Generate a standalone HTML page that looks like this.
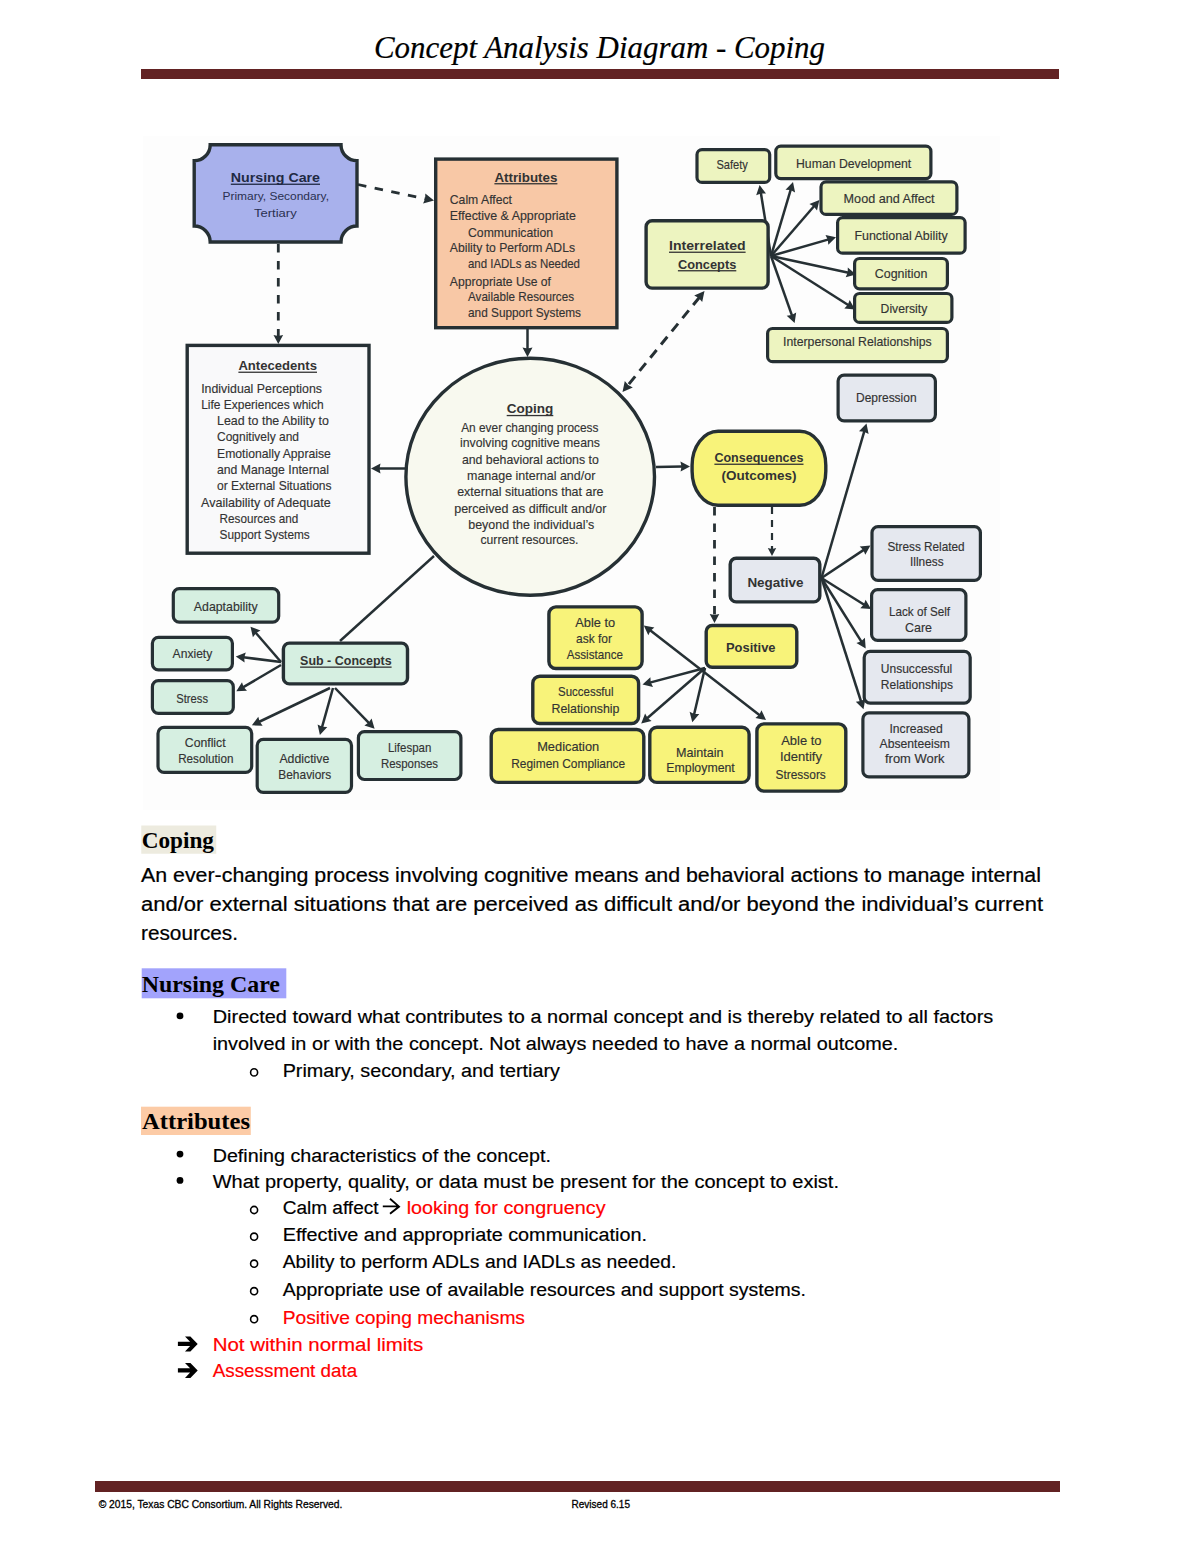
<!DOCTYPE html><html><head><meta charset="utf-8"><title>Concept Analysis Diagram - Coping</title>
<style>html,body{margin:0;padding:0;background:#fff;width:1200px;height:1553px;overflow:hidden}svg{display:block}</style></head><body>
<svg width="1200" height="1553" viewBox="0 0 1200 1553">
<rect x="0" y="0" width="1200" height="1553" fill="#ffffff"/>
<text x="374.0" y="57.6" font-family='"Liberation Serif", serif' font-size="31.5" font-weight="normal" font-style="italic" fill="#000" textLength="451.0" lengthAdjust="spacingAndGlyphs" stroke="#000" stroke-width="0.2">Concept Analysis Diagram - Coping</text>
<rect x="141" y="69" width="918" height="10" fill="#622223"/>
<rect x="143" y="136" width="857" height="674" fill="#fdfdfd"/>
<line x1="358.0" y1="184.5" x2="426.2" y2="198.9" stroke="#263034" stroke-width="2.8" stroke-dasharray="8.5,8.5"/>
<polygon points="434.0,200.5 423.1,203.5 425.2,198.6 425.3,193.4" fill="#263034"/>
<line x1="278.3" y1="244.0" x2="278.3" y2="336.8" stroke="#263034" stroke-width="2.8" stroke-dasharray="8.5,8.5"/>
<polygon points="278.3,344.0 273.5,335.0 278.3,336.0 283.1,335.0" fill="#263034"/>
<line x1="527.5" y1="329.0" x2="527.5" y2="349.4" stroke="#263034" stroke-width="2.5"/>
<polygon points="527.5,357.0 522.5,347.5 527.5,348.5 532.5,347.5" fill="#263034"/>
<line x1="405.0" y1="468.5" x2="378.6" y2="468.5" stroke="#263034" stroke-width="2.5"/>
<polygon points="371.0,468.5 380.5,463.5 379.5,468.5 380.5,473.5" fill="#263034"/>
<line x1="699.5" y1="297.2" x2="627.5" y2="385.8" stroke="#263034" stroke-width="3" stroke-dasharray="10,7"/>
<polygon points="622.5,392.0 624.8,381.0 628.2,385.0 632.8,387.5" fill="#263034"/>
<polygon points="704.5,291.0 702.2,302.0 698.8,298.0 694.2,295.5" fill="#263034"/>
<line x1="656.0" y1="467.0" x2="682.4" y2="466.6" stroke="#263034" stroke-width="2.5"/>
<polygon points="690.0,466.5 680.6,471.6 681.5,466.6 680.4,461.6" fill="#263034"/>
<line x1="434" y1="556" x2="340" y2="641" stroke="#263034" stroke-width="2.4"/>
<line x1="771.0" y1="256.0" x2="760.8" y2="192.5" stroke="#263034" stroke-width="2.5"/>
<polygon points="759.6,185.0 766.0,193.6 760.9,193.4 756.2,195.2" fill="#263034"/>
<line x1="771.0" y1="256.0" x2="790.8" y2="189.3" stroke="#263034" stroke-width="2.5"/>
<polygon points="793.0,182.0 795.1,192.5 790.6,190.1 785.5,189.7" fill="#263034"/>
<line x1="771.0" y1="256.0" x2="814.4" y2="205.8" stroke="#263034" stroke-width="2.5"/>
<polygon points="819.4,200.0 817.0,210.5 813.8,206.4 809.4,203.9" fill="#263034"/>
<line x1="771.0" y1="256.0" x2="828.7" y2="239.4" stroke="#263034" stroke-width="2.5"/>
<polygon points="836.0,237.3 828.3,244.7 827.8,239.7 825.5,235.1" fill="#263034"/>
<line x1="771.0" y1="256.0" x2="848.6" y2="272.8" stroke="#263034" stroke-width="2.5"/>
<polygon points="856.0,274.4 845.7,277.3 847.7,272.6 847.8,267.5" fill="#263034"/>
<line x1="771.0" y1="256.0" x2="848.6" y2="305.3" stroke="#263034" stroke-width="2.5"/>
<polygon points="855.0,309.4 844.3,308.5 847.8,304.8 849.7,300.1" fill="#263034"/>
<line x1="771.0" y1="256.0" x2="792.1" y2="315.8" stroke="#263034" stroke-width="2.5"/>
<polygon points="794.6,323.0 786.7,315.7 791.8,315.0 796.2,312.4" fill="#263034"/>
<line x1="714.5" y1="507.0" x2="714.5" y2="615.8" stroke="#263034" stroke-width="2.8" stroke-dasharray="8.5,8"/>
<polygon points="714.5,623.0 709.7,614.0 714.5,615.0 719.3,614.0" fill="#263034"/>
<line x1="772.0" y1="507.0" x2="772.0" y2="549.6" stroke="#263034" stroke-width="2.2" stroke-dasharray="7,6"/>
<polygon points="772.0,556.0 767.8,548.0 772.0,549.0 776.2,548.0" fill="#263034"/>
<line x1="821.5" y1="578.0" x2="864.4" y2="430.9" stroke="#263034" stroke-width="2.5"/>
<polygon points="866.5,423.6 868.6,434.1 864.1,431.8 859.0,431.3" fill="#263034"/>
<line x1="821.5" y1="578.0" x2="864.1" y2="549.6" stroke="#263034" stroke-width="2.5"/>
<polygon points="870.4,545.4 865.3,554.8 863.3,550.1 859.7,546.5" fill="#263034"/>
<line x1="821.5" y1="578.0" x2="864.6" y2="605.0" stroke="#263034" stroke-width="2.5"/>
<polygon points="871.0,609.0 860.3,608.2 863.8,604.5 865.6,599.7" fill="#263034"/>
<line x1="821.5" y1="578.0" x2="861.7" y2="642.1" stroke="#263034" stroke-width="2.5"/>
<polygon points="865.7,648.5 856.4,643.1 861.2,641.3 864.9,637.8" fill="#263034"/>
<line x1="821.5" y1="578.0" x2="861.2" y2="702.0" stroke="#263034" stroke-width="2.5"/>
<polygon points="863.5,709.2 855.8,701.7 860.9,701.1 865.4,698.6" fill="#263034"/>
<line x1="649.8" y1="630.1" x2="760.0" y2="715.4" stroke="#263034" stroke-width="2.5"/>
<polygon points="766.0,720.0 755.4,718.1 759.3,714.8 761.5,710.2" fill="#263034"/>
<polygon points="643.8,625.5 654.4,627.4 650.5,630.7 648.3,635.3" fill="#263034"/>
<line x1="705.0" y1="668.0" x2="649.8" y2="682.6" stroke="#263034" stroke-width="2.5"/>
<polygon points="642.5,684.5 650.4,677.2 650.7,682.3 653.0,686.9" fill="#263034"/>
<line x1="705.0" y1="668.0" x2="646.9" y2="718.5" stroke="#263034" stroke-width="2.5"/>
<polygon points="641.2,723.5 645.1,713.5 647.6,717.9 651.6,721.0" fill="#263034"/>
<line x1="705.0" y1="668.0" x2="694.0" y2="714.8" stroke="#263034" stroke-width="2.5"/>
<polygon points="692.3,722.2 689.6,711.8 694.2,713.9 699.3,714.1" fill="#263034"/>
<line x1="281.0" y1="662.0" x2="255.5" y2="632.5" stroke="#263034" stroke-width="2.5"/>
<polygon points="250.5,626.7 260.5,630.6 256.1,633.1 252.9,637.2" fill="#263034"/>
<line x1="281.0" y1="662.0" x2="243.3" y2="657.3" stroke="#263034" stroke-width="2.5"/>
<polygon points="235.8,656.4 245.8,652.6 244.2,657.4 244.6,662.5" fill="#263034"/>
<line x1="281.0" y1="665.0" x2="242.9" y2="687.4" stroke="#263034" stroke-width="2.5"/>
<polygon points="236.3,691.3 242.0,682.2 243.6,687.0 247.0,690.8" fill="#263034"/>
<line x1="330.0" y1="688.0" x2="258.8" y2="722.0" stroke="#263034" stroke-width="2.5"/>
<polygon points="251.9,725.3 258.3,716.7 259.6,721.6 262.6,725.7" fill="#263034"/>
<line x1="333.0" y1="688.0" x2="321.9" y2="727.6" stroke="#263034" stroke-width="2.5"/>
<polygon points="319.9,734.9 317.6,724.4 322.2,726.7 327.3,727.1" fill="#263034"/>
<line x1="335.0" y1="688.0" x2="369.3" y2="723.3" stroke="#263034" stroke-width="2.5"/>
<polygon points="374.6,728.7 364.4,725.4 368.7,722.6 371.6,718.4" fill="#263034"/>
<path d="M210.2,144.7 H341 A16,16 0 0 0 357,160.7 V226 A16,16 0 0 0 341,242 H210.2 A16,16 0 0 0 194.2,226 V160.7 A16,16 0 0 0 210.2,144.7 Z" fill="#a8b1ec" stroke="#263034" stroke-width="3.4"/>
<text x="230.8" y="182.0" font-family='"Liberation Sans", sans-serif' font-size="13.2" font-weight="bold" font-style="normal" fill="#1f2a44" textLength="89.2" lengthAdjust="spacingAndGlyphs">Nursing Care</text>
<rect x="230.8" y="183.6" width="89.2" height="1.3" fill="#1f2a44"/>
<text x="222.5" y="200.0" font-family='"Liberation Sans", sans-serif' font-size="11.2" font-weight="normal" font-style="normal" fill="#2a3050" textLength="106.5" lengthAdjust="spacingAndGlyphs">Primary, Secondary,</text>
<text x="254.0" y="216.7" font-family='"Liberation Sans", sans-serif' font-size="11.2" font-weight="normal" font-style="normal" fill="#2a3050" textLength="42.7" lengthAdjust="spacingAndGlyphs">Tertiary</text>
<rect x="435.7" y="159.1" width="181.2" height="168.6" rx="0" fill="#f8c8a6" stroke="#263034" stroke-width="3.4"/>
<text x="494.4" y="181.5" font-family='"Liberation Sans", sans-serif' font-size="13" font-weight="bold" font-style="normal" fill="#333333" textLength="63.0" lengthAdjust="spacingAndGlyphs">Attributes</text>
<rect x="494.4" y="183.1" width="63.0" height="1.3" fill="#333333"/>
<text x="449.8" y="203.9" font-family='"Liberation Sans", sans-serif' font-size="12.6" font-weight="normal" font-style="normal" fill="#333333" textLength="62.2" lengthAdjust="spacingAndGlyphs" stroke="#333333" stroke-width="0.15">Calm Affect</text>
<text x="449.8" y="220.0" font-family='"Liberation Sans", sans-serif' font-size="12.6" font-weight="normal" font-style="normal" fill="#333333" textLength="126.0" lengthAdjust="spacingAndGlyphs" stroke="#333333" stroke-width="0.15">Effective &amp; Appropriate</text>
<text x="468.0" y="236.6" font-family='"Liberation Sans", sans-serif' font-size="12.6" font-weight="normal" font-style="normal" fill="#333333" textLength="85.0" lengthAdjust="spacingAndGlyphs" stroke="#333333" stroke-width="0.15">Communication</text>
<text x="449.8" y="252.4" font-family='"Liberation Sans", sans-serif' font-size="12.6" font-weight="normal" font-style="normal" fill="#333333" textLength="125.2" lengthAdjust="spacingAndGlyphs" stroke="#333333" stroke-width="0.15">Ability to Perform ADLs</text>
<text x="468.0" y="268.0" font-family='"Liberation Sans", sans-serif' font-size="12.6" font-weight="normal" font-style="normal" fill="#333333" textLength="112.0" lengthAdjust="spacingAndGlyphs" stroke="#333333" stroke-width="0.15">and IADLs as Needed</text>
<text x="449.8" y="285.6" font-family='"Liberation Sans", sans-serif' font-size="12.6" font-weight="normal" font-style="normal" fill="#333333" textLength="101.2" lengthAdjust="spacingAndGlyphs" stroke="#333333" stroke-width="0.15">Appropriate Use of</text>
<text x="468.0" y="301.4" font-family='"Liberation Sans", sans-serif' font-size="12.6" font-weight="normal" font-style="normal" fill="#333333" textLength="106.0" lengthAdjust="spacingAndGlyphs" stroke="#333333" stroke-width="0.15">Available Resources</text>
<text x="468.0" y="317.0" font-family='"Liberation Sans", sans-serif' font-size="12.6" font-weight="normal" font-style="normal" fill="#333333" textLength="113.0" lengthAdjust="spacingAndGlyphs" stroke="#333333" stroke-width="0.15">and Support Systems</text>
<rect x="187.2" y="345.4" width="181.8" height="207.8" rx="0" fill="#f9f9fa" stroke="#263034" stroke-width="3.4"/>
<text x="238.4" y="370.0" font-family='"Liberation Sans", sans-serif' font-size="13" font-weight="bold" font-style="normal" fill="#333333" textLength="78.6" lengthAdjust="spacingAndGlyphs">Antecedents</text>
<rect x="238.4" y="371.6" width="78.6" height="1.3" fill="#333333"/>
<text x="201.2" y="392.8" font-family='"Liberation Sans", sans-serif' font-size="12.6" font-weight="normal" font-style="normal" fill="#333333" textLength="120.8" lengthAdjust="spacingAndGlyphs" stroke="#333333" stroke-width="0.15">Individual Perceptions</text>
<text x="201.2" y="409.4" font-family='"Liberation Sans", sans-serif' font-size="12.6" font-weight="normal" font-style="normal" fill="#333333" textLength="122.5" lengthAdjust="spacingAndGlyphs" stroke="#333333" stroke-width="0.15">Life Experiences which</text>
<text x="217.0" y="425.1" font-family='"Liberation Sans", sans-serif' font-size="12.6" font-weight="normal" font-style="normal" fill="#333333" textLength="112.0" lengthAdjust="spacingAndGlyphs" stroke="#333333" stroke-width="0.15">Lead to the Ability to</text>
<text x="217.0" y="440.9" font-family='"Liberation Sans", sans-serif' font-size="12.6" font-weight="normal" font-style="normal" fill="#333333" textLength="82.0" lengthAdjust="spacingAndGlyphs" stroke="#333333" stroke-width="0.15">Cognitively and</text>
<text x="217.0" y="458.4" font-family='"Liberation Sans", sans-serif' font-size="12.6" font-weight="normal" font-style="normal" fill="#333333" textLength="113.8" lengthAdjust="spacingAndGlyphs" stroke="#333333" stroke-width="0.15">Emotionally Appraise</text>
<text x="217.0" y="474.0" font-family='"Liberation Sans", sans-serif' font-size="12.6" font-weight="normal" font-style="normal" fill="#333333" textLength="112.0" lengthAdjust="spacingAndGlyphs" stroke="#333333" stroke-width="0.15">and Manage Internal</text>
<text x="217.0" y="489.9" font-family='"Liberation Sans", sans-serif' font-size="12.6" font-weight="normal" font-style="normal" fill="#333333" textLength="114.6" lengthAdjust="spacingAndGlyphs" stroke="#333333" stroke-width="0.15">or External Situations</text>
<text x="201.0" y="507.4" font-family='"Liberation Sans", sans-serif' font-size="12.6" font-weight="normal" font-style="normal" fill="#333333" textLength="129.8" lengthAdjust="spacingAndGlyphs" stroke="#333333" stroke-width="0.15">Availability of Adequate</text>
<text x="219.6" y="523.0" font-family='"Liberation Sans", sans-serif' font-size="12.6" font-weight="normal" font-style="normal" fill="#333333" textLength="78.8" lengthAdjust="spacingAndGlyphs" stroke="#333333" stroke-width="0.15">Resources and</text>
<text x="219.6" y="538.9" font-family='"Liberation Sans", sans-serif' font-size="12.6" font-weight="normal" font-style="normal" fill="#333333" textLength="90.2" lengthAdjust="spacingAndGlyphs" stroke="#333333" stroke-width="0.15">Support Systems</text>
<ellipse cx="530.2" cy="476.7" rx="124.3" ry="118.5" fill="#f8f9ef" stroke="#263034" stroke-width="3.4"/>
<text x="506.7" y="413.3" font-family='"Liberation Sans", sans-serif' font-size="13.2" font-weight="bold" font-style="normal" fill="#333333" textLength="46.6" lengthAdjust="spacingAndGlyphs">Coping</text>
<rect x="506.7" y="414.9" width="46.6" height="1.3" fill="#333333"/>
<text x="461.2" y="431.5" font-family='"Liberation Sans", sans-serif' font-size="12.6" font-weight="normal" font-style="normal" fill="#333333" textLength="137.2" lengthAdjust="spacingAndGlyphs" stroke="#333333" stroke-width="0.15">An ever changing process</text>
<text x="460.0" y="447.2" font-family='"Liberation Sans", sans-serif' font-size="12.6" font-weight="normal" font-style="normal" fill="#333333" textLength="140.0" lengthAdjust="spacingAndGlyphs" stroke="#333333" stroke-width="0.15">involving cognitive means</text>
<text x="461.9" y="463.5" font-family='"Liberation Sans", sans-serif' font-size="12.6" font-weight="normal" font-style="normal" fill="#333333" textLength="136.9" lengthAdjust="spacingAndGlyphs" stroke="#333333" stroke-width="0.15">and behavioral actions to</text>
<text x="467.0" y="479.8" font-family='"Liberation Sans", sans-serif' font-size="12.6" font-weight="normal" font-style="normal" fill="#333333" textLength="128.3" lengthAdjust="spacingAndGlyphs" stroke="#333333" stroke-width="0.15">manage internal and/or</text>
<text x="457.2" y="496.2" font-family='"Liberation Sans", sans-serif' font-size="12.6" font-weight="normal" font-style="normal" fill="#333333" textLength="146.3" lengthAdjust="spacingAndGlyphs" stroke="#333333" stroke-width="0.15">external situations that are</text>
<text x="454.2" y="512.5" font-family='"Liberation Sans", sans-serif' font-size="12.6" font-weight="normal" font-style="normal" fill="#333333" textLength="152.3" lengthAdjust="spacingAndGlyphs" stroke="#333333" stroke-width="0.15">perceived as difficult and/or</text>
<text x="468.2" y="528.8" font-family='"Liberation Sans", sans-serif' font-size="12.6" font-weight="normal" font-style="normal" fill="#333333" textLength="126.0" lengthAdjust="spacingAndGlyphs" stroke="#333333" stroke-width="0.15">beyond the individual’s</text>
<text x="480.5" y="544.0" font-family='"Liberation Sans", sans-serif' font-size="12.6" font-weight="normal" font-style="normal" fill="#333333" textLength="98.0" lengthAdjust="spacingAndGlyphs" stroke="#333333" stroke-width="0.15">current resources.</text>
<rect x="646.1" y="220.7" width="122.0" height="67.4" rx="6" fill="#edf4c0" stroke="#263034" stroke-width="3.4"/>
<text x="669.0" y="250.0" font-family='"Liberation Sans", sans-serif' font-size="12.6" font-weight="bold" font-style="normal" fill="#333333" textLength="76.6" lengthAdjust="spacingAndGlyphs">Interrelated</text>
<rect x="669.0" y="251.6" width="76.6" height="1.3" fill="#333333"/>
<text x="677.9" y="268.5" font-family='"Liberation Sans", sans-serif' font-size="12.6" font-weight="bold" font-style="normal" fill="#333333" textLength="58.4" lengthAdjust="spacingAndGlyphs">Concepts</text>
<rect x="677.9" y="270.1" width="58.4" height="1.3" fill="#333333"/>
<rect x="697.0" y="149.6" width="72.7" height="32.8" rx="5" fill="#edf4c0" stroke="#263034" stroke-width="3.2"/>
<text x="716.4" y="169.4" font-family='"Liberation Sans", sans-serif' font-size="12.4" font-weight="normal" font-style="normal" fill="#333333" textLength="31.5" lengthAdjust="spacingAndGlyphs" stroke="#333333" stroke-width="0.15">Safety</text>
<rect x="775.8" y="146.2" width="155.1" height="32.4" rx="5" fill="#edf4c0" stroke="#263034" stroke-width="3.2"/>
<text x="796.0" y="167.9" font-family='"Liberation Sans", sans-serif' font-size="12.4" font-weight="normal" font-style="normal" fill="#333333" textLength="115.2" lengthAdjust="spacingAndGlyphs" stroke="#333333" stroke-width="0.15">Human Development</text>
<rect x="821.0" y="181.8" width="135.9" height="32.6" rx="5" fill="#edf4c0" stroke="#263034" stroke-width="3.2"/>
<text x="843.6" y="202.9" font-family='"Liberation Sans", sans-serif' font-size="12.4" font-weight="normal" font-style="normal" fill="#333333" textLength="91.0" lengthAdjust="spacingAndGlyphs" stroke="#333333" stroke-width="0.15">Mood and Affect</text>
<rect x="837.6" y="217.6" width="127.5" height="35.6" rx="5" fill="#edf4c0" stroke="#263034" stroke-width="3.2"/>
<text x="854.4" y="240.2" font-family='"Liberation Sans", sans-serif' font-size="12.4" font-weight="normal" font-style="normal" fill="#333333" textLength="93.3" lengthAdjust="spacingAndGlyphs" stroke="#333333" stroke-width="0.15">Functional Ability</text>
<rect x="854.6" y="258.5" width="92.8" height="30.3" rx="5" fill="#edf4c0" stroke="#263034" stroke-width="3.2"/>
<text x="874.8" y="278.2" font-family='"Liberation Sans", sans-serif' font-size="12.4" font-weight="normal" font-style="normal" fill="#333333" textLength="52.5" lengthAdjust="spacingAndGlyphs" stroke="#333333" stroke-width="0.15">Cognition</text>
<rect x="854.6" y="293.5" width="97.3" height="28.9" rx="5" fill="#edf4c0" stroke="#263034" stroke-width="3.2"/>
<text x="880.6" y="313.2" font-family='"Liberation Sans", sans-serif' font-size="12.4" font-weight="normal" font-style="normal" fill="#333333" textLength="46.7" lengthAdjust="spacingAndGlyphs" stroke="#333333" stroke-width="0.15">Diversity</text>
<rect x="767.6" y="328.5" width="179.8" height="33.2" rx="5" fill="#edf4c0" stroke="#263034" stroke-width="3.2"/>
<text x="783.0" y="346.4" font-family='"Liberation Sans", sans-serif' font-size="12.4" font-weight="normal" font-style="normal" fill="#333333" textLength="148.7" lengthAdjust="spacingAndGlyphs" stroke="#333333" stroke-width="0.15">Interpersonal Relationships</text>
<rect x="692.1" y="431.3" width="133.7" height="74" rx="26" ry="34" fill="#f8f37a" stroke="#263034" stroke-width="3.4"/>
<text x="714.4" y="462.0" font-family='"Liberation Sans", sans-serif' font-size="13" font-weight="bold" font-style="normal" fill="#333333" textLength="89.1" lengthAdjust="spacingAndGlyphs">Consequences</text>
<rect x="714.4" y="463.6" width="89.1" height="1.3" fill="#333333"/>
<text x="721.6" y="480.0" font-family='"Liberation Sans", sans-serif' font-size="13" font-weight="bold" font-style="normal" fill="#333333" textLength="75.0" lengthAdjust="spacingAndGlyphs">(Outcomes)</text>
<rect x="838.1" y="375.1" width="97.3" height="45.7" rx="6" fill="#e5e8ef" stroke="#263034" stroke-width="3.2"/>
<text x="856.0" y="402.0" font-family='"Liberation Sans", sans-serif' font-size="12.6" font-weight="normal" font-style="normal" fill="#333333" textLength="60.6" lengthAdjust="spacingAndGlyphs" stroke="#333333" stroke-width="0.15">Depression</text>
<rect x="730.2" y="558.2" width="89.6" height="43.7" rx="6" fill="#e5e8ef" stroke="#263034" stroke-width="3.4"/>
<text x="747.4" y="586.5" font-family='"Liberation Sans", sans-serif' font-size="13" font-weight="bold" font-style="normal" fill="#333333" textLength="56.1" lengthAdjust="spacingAndGlyphs">Negative</text>
<rect x="872.0" y="526.6" width="108.4" height="53.8" rx="6" fill="#e5e8ef" stroke="#263034" stroke-width="3.2"/>
<text x="887.5" y="550.5" font-family='"Liberation Sans", sans-serif' font-size="12.4" font-weight="normal" font-style="normal" fill="#333333" textLength="77.1" lengthAdjust="spacingAndGlyphs" stroke="#333333" stroke-width="0.15">Stress Related</text>
<text x="910.0" y="566.4" font-family='"Liberation Sans", sans-serif' font-size="12.4" font-weight="normal" font-style="normal" fill="#333333" textLength="33.6" lengthAdjust="spacingAndGlyphs" stroke="#333333" stroke-width="0.15">Illness</text>
<rect x="871.6" y="589.6" width="94.3" height="50.8" rx="6" fill="#e5e8ef" stroke="#263034" stroke-width="3.2"/>
<text x="889.0" y="616.0" font-family='"Liberation Sans", sans-serif' font-size="12.4" font-weight="normal" font-style="normal" fill="#333333" textLength="61.0" lengthAdjust="spacingAndGlyphs" stroke="#333333" stroke-width="0.15">Lack of Self</text>
<text x="905.0" y="632.0" font-family='"Liberation Sans", sans-serif' font-size="12.4" font-weight="normal" font-style="normal" fill="#333333" textLength="27.0" lengthAdjust="spacingAndGlyphs" stroke="#333333" stroke-width="0.15">Care</text>
<rect x="864.2" y="651.4" width="106.0" height="51.8" rx="6" fill="#e5e8ef" stroke="#263034" stroke-width="3.2"/>
<text x="880.8" y="673.2" font-family='"Liberation Sans", sans-serif' font-size="12.4" font-weight="normal" font-style="normal" fill="#333333" textLength="71.5" lengthAdjust="spacingAndGlyphs" stroke="#333333" stroke-width="0.15">Unsuccessful</text>
<text x="880.8" y="688.8" font-family='"Liberation Sans", sans-serif' font-size="12.4" font-weight="normal" font-style="normal" fill="#333333" textLength="72.2" lengthAdjust="spacingAndGlyphs" stroke="#333333" stroke-width="0.15">Relationships</text>
<rect x="862.9" y="712.9" width="106.0" height="64.0" rx="6" fill="#e5e8ef" stroke="#263034" stroke-width="3.2"/>
<text x="889.5" y="733.0" font-family='"Liberation Sans", sans-serif' font-size="12.4" font-weight="normal" font-style="normal" fill="#333333" textLength="53.3" lengthAdjust="spacingAndGlyphs" stroke="#333333" stroke-width="0.15">Increased</text>
<text x="879.5" y="748.2" font-family='"Liberation Sans", sans-serif' font-size="12.4" font-weight="normal" font-style="normal" fill="#333333" textLength="70.5" lengthAdjust="spacingAndGlyphs" stroke="#333333" stroke-width="0.15">Absenteeism</text>
<text x="885.0" y="763.3" font-family='"Liberation Sans", sans-serif' font-size="12.4" font-weight="normal" font-style="normal" fill="#333333" textLength="59.5" lengthAdjust="spacingAndGlyphs" stroke="#333333" stroke-width="0.15">from Work</text>
<rect x="706.2" y="625.5" width="90.6" height="41.7" rx="6" fill="#f8f37a" stroke="#263034" stroke-width="3.4"/>
<text x="726.0" y="651.5" font-family='"Liberation Sans", sans-serif' font-size="13" font-weight="bold" font-style="normal" fill="#333333" textLength="49.5" lengthAdjust="spacingAndGlyphs">Positive</text>
<rect x="548.9" y="606.9" width="93.2" height="61.6" rx="7" fill="#f8f37a" stroke="#263034" stroke-width="3.4"/>
<text x="575.3" y="626.8" font-family='"Liberation Sans", sans-serif' font-size="12.4" font-weight="normal" font-style="normal" fill="#333333" textLength="39.9" lengthAdjust="spacingAndGlyphs" stroke="#333333" stroke-width="0.15">Able to</text>
<text x="576.0" y="642.9" font-family='"Liberation Sans", sans-serif' font-size="12.4" font-weight="normal" font-style="normal" fill="#333333" textLength="36.0" lengthAdjust="spacingAndGlyphs" stroke="#333333" stroke-width="0.15">ask for</text>
<text x="566.7" y="659.3" font-family='"Liberation Sans", sans-serif' font-size="12.4" font-weight="normal" font-style="normal" fill="#333333" textLength="56.3" lengthAdjust="spacingAndGlyphs" stroke="#333333" stroke-width="0.15">Assistance</text>
<rect x="532.8" y="676.2" width="105.8" height="47.3" rx="7" fill="#f8f37a" stroke="#263034" stroke-width="3.4"/>
<text x="558.0" y="696.2" font-family='"Liberation Sans", sans-serif' font-size="12.4" font-weight="normal" font-style="normal" fill="#333333" textLength="55.5" lengthAdjust="spacingAndGlyphs" stroke="#333333" stroke-width="0.15">Successful</text>
<text x="551.5" y="712.6" font-family='"Liberation Sans", sans-serif' font-size="12.4" font-weight="normal" font-style="normal" fill="#333333" textLength="68.0" lengthAdjust="spacingAndGlyphs" stroke="#333333" stroke-width="0.15">Relationship</text>
<rect x="491.2" y="729.5" width="152.6" height="52.9" rx="7" fill="#f8f37a" stroke="#263034" stroke-width="3.4"/>
<text x="537.2" y="751.2" font-family='"Liberation Sans", sans-serif' font-size="12.4" font-weight="normal" font-style="normal" fill="#333333" textLength="62.0" lengthAdjust="spacingAndGlyphs" stroke="#333333" stroke-width="0.15">Medication</text>
<text x="511.2" y="767.7" font-family='"Liberation Sans", sans-serif' font-size="12.4" font-weight="normal" font-style="normal" fill="#333333" textLength="114.0" lengthAdjust="spacingAndGlyphs" stroke="#333333" stroke-width="0.15">Regimen Compliance</text>
<rect x="649.8" y="727.3" width="99.3" height="55.1" rx="7" fill="#f8f37a" stroke="#263034" stroke-width="3.4"/>
<text x="675.9" y="756.8" font-family='"Liberation Sans", sans-serif' font-size="12.4" font-weight="normal" font-style="normal" fill="#333333" textLength="47.6" lengthAdjust="spacingAndGlyphs" stroke="#333333" stroke-width="0.15">Maintain</text>
<text x="666.3" y="772.0" font-family='"Liberation Sans", sans-serif' font-size="12.4" font-weight="normal" font-style="normal" fill="#333333" textLength="68.5" lengthAdjust="spacingAndGlyphs" stroke="#333333" stroke-width="0.15">Employment</text>
<rect x="756.9" y="723.9" width="88.9" height="67.2" rx="7" fill="#f8f37a" stroke="#263034" stroke-width="3.4"/>
<text x="781.2" y="745.1" font-family='"Liberation Sans", sans-serif' font-size="12.4" font-weight="normal" font-style="normal" fill="#333333" textLength="40.3" lengthAdjust="spacingAndGlyphs" stroke="#333333" stroke-width="0.15">Able to</text>
<text x="780.0" y="761.2" font-family='"Liberation Sans", sans-serif' font-size="12.4" font-weight="normal" font-style="normal" fill="#333333" textLength="42.0" lengthAdjust="spacingAndGlyphs" stroke="#333333" stroke-width="0.15">Identify</text>
<text x="775.5" y="778.5" font-family='"Liberation Sans", sans-serif' font-size="12.4" font-weight="normal" font-style="normal" fill="#333333" textLength="50.3" lengthAdjust="spacingAndGlyphs" stroke="#333333" stroke-width="0.15">Stressors</text>
<rect x="173.3" y="588.6" width="105.4" height="33.6" rx="6" fill="#d6efe1" stroke="#263034" stroke-width="3.2"/>
<text x="193.8" y="611.1" font-family='"Liberation Sans", sans-serif' font-size="12.4" font-weight="normal" font-style="normal" fill="#333333" textLength="63.8" lengthAdjust="spacingAndGlyphs" stroke="#333333" stroke-width="0.15">Adaptability</text>
<rect x="152.4" y="637.3" width="80.0" height="32.5" rx="6" fill="#d6efe1" stroke="#263034" stroke-width="3.2"/>
<text x="172.6" y="658.4" font-family='"Liberation Sans", sans-serif' font-size="12.4" font-weight="normal" font-style="normal" fill="#333333" textLength="39.7" lengthAdjust="spacingAndGlyphs" stroke="#333333" stroke-width="0.15">Anxiety</text>
<rect x="152.4" y="680.7" width="80.9" height="32.7" rx="6" fill="#d6efe1" stroke="#263034" stroke-width="3.2"/>
<text x="176.3" y="702.6" font-family='"Liberation Sans", sans-serif' font-size="12.4" font-weight="normal" font-style="normal" fill="#333333" textLength="31.7" lengthAdjust="spacingAndGlyphs" stroke="#333333" stroke-width="0.15">Stress</text>
<rect x="158.0" y="727.4" width="93.7" height="45.0" rx="6" fill="#d6efe1" stroke="#263034" stroke-width="3.2"/>
<text x="184.8" y="747.1" font-family='"Liberation Sans", sans-serif' font-size="12.4" font-weight="normal" font-style="normal" fill="#333333" textLength="40.8" lengthAdjust="spacingAndGlyphs" stroke="#333333" stroke-width="0.15">Conflict</text>
<text x="178.2" y="763.3" font-family='"Liberation Sans", sans-serif' font-size="12.4" font-weight="normal" font-style="normal" fill="#333333" textLength="55.2" lengthAdjust="spacingAndGlyphs" stroke="#333333" stroke-width="0.15">Resolution</text>
<rect x="257.2" y="739.4" width="94.3" height="52.9" rx="6" fill="#d6efe1" stroke="#263034" stroke-width="3.2"/>
<text x="279.4" y="762.7" font-family='"Liberation Sans", sans-serif' font-size="12.4" font-weight="normal" font-style="normal" fill="#333333" textLength="49.9" lengthAdjust="spacingAndGlyphs" stroke="#333333" stroke-width="0.15">Addictive</text>
<text x="278.3" y="779.1" font-family='"Liberation Sans", sans-serif' font-size="12.4" font-weight="normal" font-style="normal" fill="#333333" textLength="53.0" lengthAdjust="spacingAndGlyphs" stroke="#333333" stroke-width="0.15">Behaviors</text>
<rect x="358.4" y="731.7" width="102.5" height="47.8" rx="6" fill="#d6efe1" stroke="#263034" stroke-width="3.2"/>
<text x="387.9" y="751.9" font-family='"Liberation Sans", sans-serif' font-size="12.4" font-weight="normal" font-style="normal" fill="#333333" textLength="43.4" lengthAdjust="spacingAndGlyphs" stroke="#333333" stroke-width="0.15">Lifespan</text>
<text x="380.9" y="767.5" font-family='"Liberation Sans", sans-serif' font-size="12.4" font-weight="normal" font-style="normal" fill="#333333" textLength="57.2" lengthAdjust="spacingAndGlyphs" stroke="#333333" stroke-width="0.15">Responses</text>
<rect x="283.4" y="643.1" width="124.1" height="40.8" rx="6" fill="#d6efe1" stroke="#263034" stroke-width="3.4"/>
<text x="300.1" y="664.9" font-family='"Liberation Sans", sans-serif' font-size="12.6" font-weight="bold" font-style="normal" fill="#333333" textLength="91.5" lengthAdjust="spacingAndGlyphs">Sub - Concepts</text>
<rect x="300.1" y="666.5" width="91.5" height="1.3" fill="#333333"/>
<rect x="141.25" y="825.5" width="75" height="28.25" fill="#edebdf"/>
<text x="141.7" y="847.5" font-family='"Liberation Serif", serif' font-size="22.6" font-weight="bold" font-style="normal" fill="#000000" textLength="72.3" lengthAdjust="spacingAndGlyphs">Coping</text>
<text x="141.0" y="882.0" font-family='"Liberation Sans", sans-serif' font-size="20" font-weight="normal" font-style="normal" fill="#000000" textLength="900.0" lengthAdjust="spacingAndGlyphs" stroke="#000000" stroke-width="0.22">An ever-changing process involving cognitive means and behavioral actions to manage internal</text>
<text x="141.0" y="911.2" font-family='"Liberation Sans", sans-serif' font-size="20" font-weight="normal" font-style="normal" fill="#000000" textLength="902.0" lengthAdjust="spacingAndGlyphs" stroke="#000000" stroke-width="0.22">and/or external situations that are perceived as difficult and/or beyond the individual’s current</text>
<text x="141.0" y="939.5" font-family='"Liberation Sans", sans-serif' font-size="20" font-weight="normal" font-style="normal" fill="#000000" textLength="97.0" lengthAdjust="spacingAndGlyphs" stroke="#000000" stroke-width="0.22">resources.</text>
<rect x="141.7" y="968.3" width="144.6" height="30" fill="#a2a3fc"/>
<text x="141.7" y="992.3" font-family='"Liberation Serif", serif' font-size="22.6" font-weight="bold" font-style="normal" fill="#000000" textLength="138.3" lengthAdjust="spacingAndGlyphs">Nursing Care</text>
<circle cx="180" cy="1015.9" r="3.4" fill="#000"/>
<text x="212.7" y="1023.3" font-family='"Liberation Sans", sans-serif' font-size="17.6" font-weight="normal" font-style="normal" fill="#000000" textLength="780.6" lengthAdjust="spacingAndGlyphs" stroke="#000000" stroke-width="0.18">Directed toward what contributes to a normal concept and is thereby related to all factors</text>
<text x="212.7" y="1050.0" font-family='"Liberation Sans", sans-serif' font-size="17.6" font-weight="normal" font-style="normal" fill="#000000" textLength="685.6" lengthAdjust="spacingAndGlyphs" stroke="#000000" stroke-width="0.18">involved in or with the concept. Not always needed to have a normal outcome.</text>
<ellipse cx="254.1" cy="1072.4" rx="3.5" ry="3.6" fill="none" stroke="#000" stroke-width="1.6"/>
<text x="282.7" y="1076.7" font-family='"Liberation Sans", sans-serif' font-size="17.6" font-weight="normal" font-style="normal" fill="#000000" textLength="277.3" lengthAdjust="spacingAndGlyphs" stroke="#000000" stroke-width="0.18">Primary, secondary, and tertiary</text>
<rect x="141" y="1106.7" width="109.8" height="28.3" fill="#fccba6"/>
<text x="142.0" y="1129.3" font-family='"Liberation Serif", serif' font-size="22.6" font-weight="bold" font-style="normal" fill="#000000" textLength="108.0" lengthAdjust="spacingAndGlyphs">Attributes</text>
<circle cx="180" cy="1154.1" r="3.4" fill="#000"/>
<text x="212.7" y="1161.7" font-family='"Liberation Sans", sans-serif' font-size="17.6" font-weight="normal" font-style="normal" fill="#000000" textLength="338.3" lengthAdjust="spacingAndGlyphs" stroke="#000000" stroke-width="0.18">Defining characteristics of the concept.</text>
<circle cx="180" cy="1180.4" r="3.4" fill="#000"/>
<text x="212.7" y="1188.0" font-family='"Liberation Sans", sans-serif' font-size="17.6" font-weight="normal" font-style="normal" fill="#000000" textLength="626.3" lengthAdjust="spacingAndGlyphs" stroke="#000000" stroke-width="0.18">What property, quality, or data must be present for the concept to exist.</text>
<ellipse cx="254.1" cy="1210.0" rx="3.5" ry="3.6" fill="none" stroke="#000" stroke-width="1.6"/>
<text x="282.7" y="1214.3" font-family='"Liberation Sans", sans-serif' font-size="17.6" font-weight="normal" font-style="normal" fill="#000000" textLength="95.8" lengthAdjust="spacingAndGlyphs" stroke="#000000" stroke-width="0.18">Calm affect</text>
<path d="M382.8,1206.4 H398.5 M390,1198.8 L399,1206.6 L390,1213.7" fill="none" stroke="#000" stroke-width="1.9" stroke-linejoin="miter"/>
<text x="406.7" y="1214.3" font-family='"Liberation Sans", sans-serif' font-size="17.6" font-weight="normal" font-style="normal" fill="#ff0000" textLength="198.9" lengthAdjust="spacingAndGlyphs" stroke="#ff0000" stroke-width="0.18">looking for congruency</text>
<ellipse cx="254.1" cy="1236.7" rx="3.5" ry="3.6" fill="none" stroke="#000" stroke-width="1.6"/>
<text x="282.7" y="1241.0" font-family='"Liberation Sans", sans-serif' font-size="17.6" font-weight="normal" font-style="normal" fill="#000000" textLength="364.3" lengthAdjust="spacingAndGlyphs" stroke="#000000" stroke-width="0.18">Effective and appropriate communication.</text>
<ellipse cx="254.1" cy="1263.7" rx="3.5" ry="3.6" fill="none" stroke="#000" stroke-width="1.6"/>
<text x="282.7" y="1268.0" font-family='"Liberation Sans", sans-serif' font-size="17.6" font-weight="normal" font-style="normal" fill="#000000" textLength="393.7" lengthAdjust="spacingAndGlyphs" stroke="#000000" stroke-width="0.18">Ability to perform ADLs and IADLs as needed.</text>
<ellipse cx="254.1" cy="1291.2" rx="3.5" ry="3.6" fill="none" stroke="#000" stroke-width="1.6"/>
<text x="282.7" y="1295.5" font-family='"Liberation Sans", sans-serif' font-size="17.6" font-weight="normal" font-style="normal" fill="#000000" textLength="523.3" lengthAdjust="spacingAndGlyphs" stroke="#000000" stroke-width="0.18">Appropriate use of available resources and support systems.</text>
<ellipse cx="254.1" cy="1319.2" rx="3.5" ry="3.6" fill="none" stroke="#000" stroke-width="1.6"/>
<text x="282.7" y="1323.5" font-family='"Liberation Sans", sans-serif' font-size="17.6" font-weight="normal" font-style="normal" fill="#ff0000" textLength="242.3" lengthAdjust="spacingAndGlyphs" stroke="#ff0000" stroke-width="0.18">Positive coping mechanisms</text>
<path d="M177.9,1341.8 H190.1 L185,1336.4 H190.4 L197.7,1344.1 L190.4,1351.6 H185 L190.1,1346.0 H177.9 Z" fill="#000"/>
<text x="212.7" y="1350.8" font-family='"Liberation Sans", sans-serif' font-size="17.6" font-weight="normal" font-style="normal" fill="#ff0000" textLength="210.6" lengthAdjust="spacingAndGlyphs" stroke="#ff0000" stroke-width="0.18">Not within normal limits</text>
<path d="M177.9,1368.3 H190.1 L185,1362.9 H190.4 L197.7,1370.6 L190.4,1378.1 H185 L190.1,1372.5 H177.9 Z" fill="#000"/>
<text x="212.7" y="1377.3" font-family='"Liberation Sans", sans-serif' font-size="17.6" font-weight="normal" font-style="normal" fill="#ff0000" textLength="144.6" lengthAdjust="spacingAndGlyphs" stroke="#ff0000" stroke-width="0.18">Assessment data</text>
<rect x="95" y="1481" width="965" height="11" fill="#622223"/>
<text x="98.7" y="1508.4" font-family='"Liberation Sans", sans-serif' font-size="10.6" font-weight="normal" font-style="normal" fill="#000000" textLength="243.7" lengthAdjust="spacingAndGlyphs" stroke="#000000" stroke-width="0.3">© 2015, Texas CBC Consortium. All Rights Reserved.</text>
<text x="571.5" y="1507.5" font-family='"Liberation Sans", sans-serif' font-size="10.6" font-weight="normal" font-style="normal" fill="#000000" textLength="58.5" lengthAdjust="spacingAndGlyphs" stroke="#000000" stroke-width="0.3">Revised 6.15</text>
</svg></body></html>
